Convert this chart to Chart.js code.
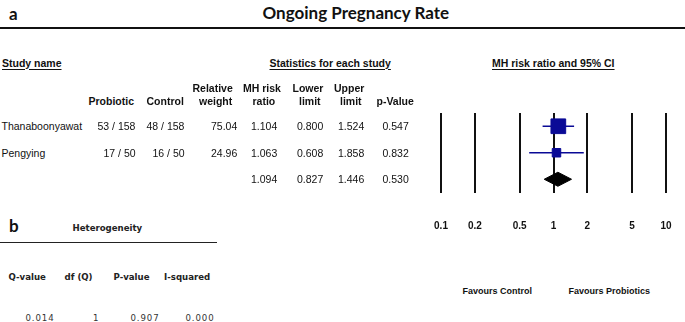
<!DOCTYPE html>
<html>
<head>
<meta charset="utf-8">
<script src="https://cdn.jsdelivr.net/npm/chart.js@4/dist/chart.umd.min.js"></script>
<style>
  html, body { margin: 0; padding: 0; background: #fff; }
  #wrap { position: relative; width: 685px; height: 322px; overflow: hidden; background: #fff; }
  .t { position: absolute; white-space: nowrap; line-height: 1; color: #111; font-family: "Liberation Sans", Arial, sans-serif; font-size: 10.5px; }
  .b { font-weight: bold; }
  .s9 { font-size: 9px; }
  .u { text-decoration: underline; text-decoration-thickness: 1px; text-underline-offset: 2px; }
  .het { font-family: "DejaVu Sans", sans-serif; font-size: 8.6px; font-weight: bold; color: #222; }
  .hetv { font-family: "DejaVu Sans", sans-serif; font-size: 8.6px; color: #333; letter-spacing: 0.9px; }
  .panel { font-family: Lato, "Open Sans", sans-serif; font-weight: bold; font-size: 17px; color: #111; }
  #rule { position: absolute; left: 0; top: 27px; width: 685px; height: 2px; background: #111; }
  #rule2 { position: absolute; left: 0; top: 242px; width: 217px; height: 1px; background: #222; }
  #chartBox { position: absolute; left: 400px; top: 100px; width: 285px; height: 150px; }
</style>
</head>
<body>
<div id="wrap">
  <div id="rule"></div>
  <div id="rule2"></div>
  <div id="chartBox"><canvas id="c" width="285" height="150"></canvas></div>
</div>
<script>
// ---------- data ----------
const chartTitle = "Ongoing Pregnancy Rate";
const studies = ["Thanaboonyawat", "Pengying"];
const probioticEvents = [53, 17];
const probioticTotals = [158, 50];
const controlEvents = [48, 16];
const controlTotals = [158, 50];
const relativeWeights = [75.04, 24.96];
const riskRatios = [1.104, 1.063];
const lowerLimits = [0.800, 0.608];
const upperLimits = [1.524, 1.858];
const pValues = [0.547, 0.832];
const pooledRiskRatio = 1.094;
const pooledLower = 0.827;
const pooledUpper = 1.446;
const pooledP = 0.530;
const axisTicks = [0.1, 0.2, 0.5, 1, 2, 5, 10];
const heterogeneityLabels = ["Q-value", "df (Q)", "P-value", "I-squared"];
const heterogeneityValues = [0.014, 1, 0.907, 0.000];
const favourLabels = ["Favours Control", "Favours Probiotics"];

// ---------- text layout ----------
const wrap = document.getElementById("wrap");
function txt(s, x, y, cls, align) {
  const d = document.createElement("div");
  d.className = "t " + (cls || "");
  d.textContent = s;
  wrap.appendChild(d);
  const w = d.offsetWidth, h = d.offsetHeight;
  let left = x;
  if (align === "center") left = x - w / 2;
  else if (align === "right") left = x - w;
  d.style.left = left + "px";
  d.style.top = (y - h / 2) + "px";
  return d;
}

txt("a", 9, 13, "panel", "left");
txt(chartTitle, 356, 12, "panel", "center");

txt("Study name", 2, 63, "b u", "left");
txt("Statistics for each study", 330, 63, "b u", "center");
txt("MH risk ratio and 95% CI", 553.5, 63, "b u", "center");

const h1 = 88, h2 = 101.5;
txt("Probiotic", 134.5, h2, "b", "right");
txt("Control", 183.5, h2, "b", "right");
txt("Relative", 232.5, h1, "b", "right");
txt("weight", 232, h2, "b", "right");
txt("MH risk", 262, h1, "b", "center");
txt("ratio", 264, h2, "b", "center");
txt("Lower", 308, h1, "b", "center");
txt("limit", 310, h2, "b", "center");
txt("Upper", 349, h1, "b", "center");
txt("limit", 351, h2, "b", "center");
txt("p-Value", 395, h2, "b", "center");

const rowY = [126.5, 153, 179.5];
studies.forEach((s, i) => {
  const y = rowY[i];
  txt(s, 1.5, y, "", "left");
  txt(probioticEvents[i] + " / " + probioticTotals[i], 135.5, y, "", "right");
  txt(controlEvents[i] + " / " + controlTotals[i], 184.5, y, "", "right");
  txt(relativeWeights[i].toFixed(2), 237, y, "", "right");
  txt(riskRatios[i].toFixed(3), 264, y, "", "center");
  txt(lowerLimits[i].toFixed(3), 310, y, "", "center");
  txt(upperLimits[i].toFixed(3), 351, y, "", "center");
  txt(pValues[i].toFixed(3), 395.5, y, "", "center");
});
txt(pooledRiskRatio.toFixed(3), 264, rowY[2], "", "center");
txt(pooledLower.toFixed(3), 310, rowY[2], "", "center");
txt(pooledUpper.toFixed(3), 351, rowY[2], "", "center");
txt(pooledP.toFixed(3), 395.5, rowY[2], "", "center");

txt(favourLabels[0], 497.5, 291, "b s9", "center");
txt(favourLabels[1], 609.5, 291, "b s9", "center");

txt("b", 9, 225, "panel", "left");
txt("Heterogeneity", 107.5, 228, "het", "center");
const hetX = [27, 78.5, 131.5, 187];
heterogeneityLabels.forEach((s, i) => txt(s, hetX[i], 277, "het", "center"));
const hetValX = [54.5, 99, 159.5, 214.5];
txt(heterogeneityValues[0].toFixed(3), hetValX[0], 318, "hetv", "right");
txt(String(heterogeneityValues[1]), hetValX[1], 318, "hetv", "right");
txt(heterogeneityValues[2].toFixed(3), hetValX[2], 318, "hetv", "right");
txt(heterogeneityValues[3].toFixed(3), hetValX[3], 318, "hetv", "right");

// ---------- chart ----------
const navy = "#0a0a96";
const datasets = [];
studies.forEach((s, i) => {
  datasets.push({
    data: [{ x: lowerLimits[i], y: i + 1 }, { x: upperLimits[i], y: i + 1 }],
    showLine: true, borderColor: navy, borderWidth: 1.5, pointRadius: 0, fill: false
  });
});
datasets.push({
  data: riskRatios.map((v, i) => ({ x: v, y: i + 1 })),
  pointStyle: "rect",
  pointRadius: relativeWeights.map(w => 1.2 * Math.sqrt(w)),
  pointBackgroundColor: navy, pointBorderColor: navy, pointBorderWidth: 1,
  showLine: false
});
const dh = 0.265, pr = studies.length + 1;
datasets.push({
  data: [
    { x: pooledLower, y: pr }, { x: pooledRiskRatio, y: pr - dh },
    { x: pooledUpper, y: pr }, { x: pooledRiskRatio, y: pr + dh },
    { x: pooledLower, y: pr }
  ],
  showLine: true, fill: "shape", backgroundColor: "#000", borderColor: "#000",
  borderWidth: 1, pointRadius: 0, tension: 0
});

new Chart(document.getElementById("c"), {
  type: "scatter",
  data: { datasets },
  options: {
    responsive: false,
    animation: false,
    devicePixelRatio: 1,
    layout: { padding: { left: 41, right: 19, top: 13, bottom: 0 } },
    plugins: { legend: { display: false }, tooltip: { enabled: false } },
    events: [],
    scales: {
      x: {
        type: "logarithmic",
        min: 0.1, max: 10,
        afterBuildTicks: sc => { sc.ticks = axisTicks.map(v => ({ value: v })); },
        afterFit: sc => { sc.height = 57.5; },
        ticks: {
          autoSkip: false, maxRotation: 0, padding: 1.5,
          color: "#111",
          font: { family: "Liberation Sans", size: 10, weight: "bold" },
          callback: v => String(v)
        },
        grid: { color: "#111", lineWidth: 2, drawTicks: true, tickLength: 26.5, tickColor: "rgba(0,0,0,0)" },
        border: { display: false }
      },
      y: {
        display: false, min: 0.5, max: 3.5, reverse: true
      }
    }
  }
});
</script>
</body>
</html>
